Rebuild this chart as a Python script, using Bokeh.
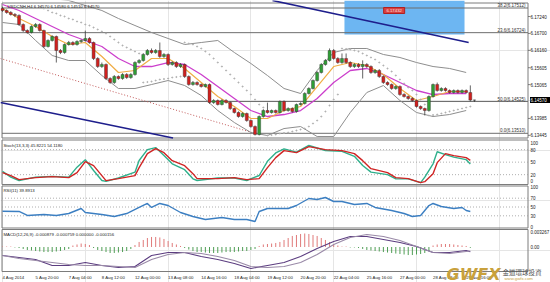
from bokeh.plotting import figure
from bokeh.models import Range1d
from bokeh.embed import file_html
from bokeh.resources import INLINE
from bokeh.core.properties import value

W, H = 550, 282
BAR_PX, X0_PX = 4.14, 2.0          # pixel spacing of the H4 bars
FONT = value("Liberation Sans")

# ---------------------------------------------------------------- data
title_text = "USDCNH,H4 6.14570 6.14580 6.14510 6.14570"

opens = [6.17500, 6.17432, 6.17369, 6.17305, 6.17273, 6.16985, 6.16793, 6.16730, 6.16921, 6.16985,
         6.16793, 6.16282, 6.16474, 6.16602, 6.16154, 6.16091, 6.16346, 6.16410, 6.16346, 6.16442,
         6.16474, 6.16538, 6.16410, 6.15899, 6.15643, 6.15707, 6.15260, 6.15132, 6.15324, 6.15260,
         6.15388, 6.15292, 6.15388, 6.15771, 6.15835, 6.16027, 6.16154, 6.16091, 6.16154, 6.15963,
         6.16027, 6.15707, 6.15771, 6.15643, 6.15707, 6.15324, 6.15068, 6.15132, 6.15068, 6.15004,
         6.15068, 6.14493, 6.14557, 6.14429, 6.14557, 6.14493, 6.14301, 6.14174, 6.14046, 6.14142,
         6.13918, 6.13726, 6.13471, 6.14046, 6.14238, 6.14174, 6.14238, 6.14174, 6.14525, 6.14238,
         6.14301, 6.14206, 6.14429, 6.14461, 6.14781, 6.14940, 6.15196, 6.15452, 6.15707, 6.15835,
         6.16154, 6.15899, 6.15771, 6.15899, 6.15771, 6.15643, 6.15707, 6.15643, 6.15707, 6.15643,
         6.15452, 6.15516, 6.15324, 6.15132, 6.15068, 6.14940, 6.15004, 6.14749, 6.14685, 6.14621,
         6.14557, 6.14365, 6.14301, 6.14238, 6.14685, 6.15068, 6.14877, 6.14940, 6.14877, 6.14813,
         6.14877, 6.14813, 6.14877, 6.14813, 6.14570]
highs = [6.1755, 6.1747, 6.1741, 6.1735, 6.1731, 6.1702, 6.1683, 6.1696, 6.1703, 6.1702,
         6.1682, 6.1651, 6.1664, 6.1663, 6.1620, 6.1638, 6.1646, 6.1645, 6.1648, 6.1651,
         6.1679, 6.1658, 6.1644, 6.1594, 6.1577, 6.1574, 6.1530, 6.1537, 6.1536, 6.1543,
         6.1543, 6.1543, 6.1581, 6.1588, 6.1607, 6.1620, 6.1622, 6.1620, 6.1641, 6.1607,
         6.1606, 6.1581, 6.1581, 6.1575, 6.1574, 6.1536, 6.1518, 6.1517, 6.1510, 6.1510,
         6.1510, 6.1460, 6.1459, 6.1460, 6.1460, 6.1453, 6.1433, 6.1421, 6.1418, 6.1417,
         6.1395, 6.1376, 6.1408, 6.1428, 6.1449, 6.1427, 6.1427, 6.1456, 6.1456, 6.1434,
         6.1434, 6.1446, 6.1450, 6.1482, 6.1498, 6.1523, 6.1549, 6.1575, 6.1588, 6.1622,
         6.1620, 6.1594, 6.1606, 6.1606, 6.1581, 6.1575, 6.1575, 6.1584, 6.1575, 6.1568,
         6.1556, 6.1556, 6.1536, 6.1517, 6.1510, 6.1504, 6.1504, 6.1479, 6.1472, 6.1466,
         6.1459, 6.1440, 6.1433, 6.1472, 6.1510, 6.1513, 6.1498, 6.1498, 6.1491, 6.1491,
         6.1491, 6.1491, 6.1491, 6.1504, 6.14580]
lows = [6.1739, 6.1733, 6.1727, 6.1722, 6.1694, 6.1675, 6.1669, 6.1670, 6.1688, 6.1676,
        6.1624, 6.1625, 6.1644, 6.1577, 6.1604, 6.1605, 6.1631, 6.1631, 6.1631, 6.1640,
        6.1644, 6.1637, 6.1585, 6.1560, 6.1560, 6.1521, 6.1509, 6.1509, 6.1522, 6.1522,
        6.1525, 6.1525, 6.1535, 6.1573, 6.1580, 6.1599, 6.1605, 6.1605, 6.1592, 6.1592,
        6.1566, 6.1567, 6.1560, 6.1560, 6.1528, 6.1503, 6.1503, 6.1503, 6.1497, 6.1497,
        6.1445, 6.1445, 6.1440, 6.1440, 6.1446, 6.1426, 6.1414, 6.1401, 6.1401, 6.1388,
        6.1369, 6.1344, 6.1344, 6.1401, 6.1414, 6.1414, 6.1414, 6.1414, 6.1420, 6.1420,
        6.1417, 6.1417, 6.1440, 6.1443, 6.1475, 6.1491, 6.1516, 6.1542, 6.1567, 6.1580,
        6.1586, 6.1573, 6.1573, 6.1573, 6.1560, 6.1560, 6.1560, 6.1526, 6.1560, 6.1541,
        6.1541, 6.1528, 6.1509, 6.1503, 6.1490, 6.1490, 6.1471, 6.1465, 6.1458, 6.1452,
        6.1433, 6.1426, 6.1408, 6.1420, 6.1465, 6.1484, 6.1484, 6.1484, 6.1478, 6.1478,
        6.1478, 6.1478, 6.1478, 6.1453, 6.14510]
closes = [6.17432, 6.17369, 6.17305, 6.17273, 6.16985, 6.16793, 6.16730, 6.16921, 6.16985, 6.16793,
          6.16282, 6.16474, 6.16602, 6.16154, 6.16091, 6.16346, 6.16410, 6.16346, 6.16442, 6.16474,
          6.16538, 6.16410, 6.15899, 6.15643, 6.15707, 6.15260, 6.15132, 6.15324, 6.15260, 6.15388,
          6.15292, 6.15388, 6.15771, 6.15835, 6.16027, 6.16154, 6.16091, 6.16154, 6.15963, 6.16027,
          6.15707, 6.15771, 6.15643, 6.15707, 6.15324, 6.15068, 6.15132, 6.15068, 6.15004, 6.15068,
          6.14493, 6.14557, 6.14429, 6.14557, 6.14493, 6.14301, 6.14174, 6.14046, 6.14142, 6.13918,
          6.13726, 6.13471, 6.14046, 6.14238, 6.14174, 6.14238, 6.14174, 6.14525, 6.14238, 6.14301,
          6.14206, 6.14429, 6.14461, 6.14781, 6.14940, 6.15196, 6.15452, 6.15707, 6.15835, 6.16154,
          6.15899, 6.15771, 6.15899, 6.15771, 6.15643, 6.15707, 6.15643, 6.15707, 6.15643, 6.15452,
          6.15516, 6.15324, 6.15132, 6.15068, 6.14940, 6.15004, 6.14749, 6.14685, 6.14621, 6.14557,
          6.14365, 6.14301, 6.14238, 6.14685, 6.15068, 6.14877, 6.14940, 6.14877, 6.14813, 6.14877,
          6.14813, 6.14877, 6.14813, 6.14570, 6.14570]

time_labels = ["4 Aug 2014", "5 Aug 20:00", "7 Aug 04:00", "8 Aug 12:00", "12 Aug 00:00",
               "13 Aug 08:00", "14 Aug 16:00", "18 Aug 04:00", "19 Aug 12:00", "20 Aug 20:00",
               "22 Aug 04:00", "25 Aug 16:00", "27 Aug 00:00", "28 Aug 08:00", "29 Aug 16:00"]
time_label_bars = [0, 8, 16, 24, 32, 40, 48, 56, 64, 72, 80, 88, 96, 104, 112]

price_ticks = [6.17240, 6.16700, 6.16160, 6.15605, 6.15065, 6.13985, 6.13445]
price_tick_labels = ["6.17240", "6.16700", "6.16160", "6.15605", "6.15065", "6.13985", "6.13445"]
last_price = 6.14570

fib_levels = [6.17512, 6.16724, 6.14525, 6.13510]
fib_labels = ["38.2(6.17512)", "23.6(6.16724)", "50.0(6.14525)", "0.0(6.13510)"]

# Bollinger bands and two moving averages, read every 4 bars
band_idx = [0, 4, 8, 12, 16, 20, 24, 28, 32, 36, 40, 44, 48, 52, 56, 60, 64, 68, 72, 76,
            80, 84, 88, 92, 96, 100, 104, 108, 112]
bb_upper = [6.18231, 6.18071, 6.17912, 6.17816, 6.17752, 6.17592, 6.17432, 6.17177, 6.16953, 6.16730,
            6.16538, 6.16346, 6.16410, 6.16474, 6.16091, 6.15739, 6.15356, 6.14941, 6.14781, 6.15516,
            6.16091, 6.16218, 6.16218, 6.16027, 6.15931, 6.15771, 6.15643, 6.15580, 6.15452]
bb_lower = [6.17049, 6.16985, 6.16474, 6.15995, 6.15835, 6.15835, 6.15356, 6.14941, 6.14941, 6.15068,
            6.15196, 6.15036, 6.14717, 6.14238, 6.13854, 6.13535, 6.13439, 6.13662, 6.13726, 6.13407,
            6.13407, 6.14174, 6.14813, 6.15036, 6.14557, 6.14174, 6.14046, 6.14110, 6.14238]
ma_fast = [6.17496, 6.17177, 6.16921, 6.16602, 6.16346, 6.16410, 6.15963, 6.15452, 6.15516, 6.15899,
           6.15899, 6.15580, 6.15132, 6.14685, 6.14365, 6.13982, 6.13982, 6.14238, 6.14365, 6.15004,
           6.15643, 6.15771, 6.15675, 6.15388, 6.14941, 6.14557, 6.14685, 6.14845, 6.14845]
ma_slow = [6.17624, 6.17432, 6.17177, 6.16921, 6.16666, 6.16474, 6.16282, 6.15899, 6.15643, 6.15643,
           6.15771, 6.15707, 6.15388, 6.15004, 6.14621, 6.14238, 6.14046, 6.14110, 6.14238, 6.14621,
           6.15132, 6.15516, 6.15580, 6.15388, 6.15132, 6.14877, 6.14749, 6.14781, 6.14781]

# Parabolic SAR dots
sar_idx = list(range(9, 114))
sar_val = [6.17560, 6.17496, 6.17432, 6.17369, 6.17337, 6.17273, 6.17241, 6.17177, 6.17145, 6.17081,
           6.17049, 6.16985, 6.16953, 6.16889, 6.16826, 6.16762, 6.16698, 6.16602, 6.16506, 6.16410,
           6.16314, 6.16250, 6.16187, 6.16123, 6.16059,
           6.15132, 6.15148, 6.15164, 6.15196, 6.15228, 6.15244, 6.15260, 6.15292, 6.15308, 6.15324,
           6.16410, 6.16378, 6.16346, 6.16282, 6.16218, 6.16123, 6.16027, 6.15899, 6.15771, 6.15643,
           6.15516, 6.15388, 6.15260, 6.15132, 6.15004, 6.14877, 6.14749, 6.14589, 6.14429, 6.14334,
           6.13439, 6.13455, 6.13471, 6.13503, 6.13519, 6.13535, 6.13567, 6.13599, 6.13631, 6.13662,
           6.13726, 6.13822, 6.13918, 6.14046, 6.14206, 6.14397, 6.14589, 6.14749,
           6.16218, 6.16202, 6.16187, 6.16155, 6.16123, 6.16059, 6.15995, 6.15931, 6.15867, 6.15771,
           6.15675, 6.15580, 6.15484, 6.15356, 6.15228, 6.15100, 6.14972, 6.14877, 6.14749, 6.14589,
           6.14429,
           6.14078, 6.14094, 6.14110, 6.14142, 6.14174, 6.14206, 6.14238, 6.14270, 6.14301, 6.14334,
           6.14365]

# trend lines / drawings (bar index, price)
trend_hi_x, trend_hi_y = [65.2, 112.6], [6.17752, 6.16410]
trend_lo_x, trend_lo_y = [-0.5, 41.2], [6.14493, 6.13359]
dotted_x, dotted_y = [-0.5, 61.1], [6.15899, 6.13503]
zone_left, zone_right, zone_bottom, zone_top = 82.6, 111.6, 6.16666, 6.17752
zone_tag = "6.17432"

# Stochastic (13,3,3)
stoch_idx = [0, 2, 4, 8, 12, 16, 18, 20, 22, 24, 25, 28, 32, 33, 35, 37, 39, 41, 44, 46,
             47, 52, 56, 59, 62, 64, 66, 68, 71, 74, 78, 82, 85, 87, 89, 93, 95, 98, 101, 102,
             104, 105, 107, 109, 112, 113]
stoch_k = [28, 14, 6, 14, 16, 14, 38, 56, 30, 6, 4, 12, 26, 54, 80, 85, 66, 46, 32, 10,
           6, 12, 12, 6, 18, 52, 72, 82, 74, 90, 78, 76, 64, 42, 26, 20, 10, 10, 1, 14,
           46, 75, 68, 62, 56, 45.8221]
stoch_d = [24.8, 17.6, 8.0, 12.8, 15.2, 12.8, 24.8, 51.2, 41.6, 17.6, 5.6, 10.4, 17.6, 36.8, 70.4, 82.4, 72.8, 53.6, 41.6, 22.4,
           10.4, 10.4, 12.8, 8.0, 10.4, 36.8, 60.8, 77.6, 72.8, 87.2, 80.0, 77.6, 70.4, 53.6, 34.4, 24.8, 12.8, 10.4, 0.8, 3.2,
           22.4, 48.8, 70.4, 65.6, 60.8, 54.1180]
stoch_levels = [80, 50, 20]

# RSI(11)
rsi_idx = [0, 4, 6, 10, 13, 16, 19, 20, 24, 27, 30, 33, 35, 36, 38, 40, 43, 46, 49, 53,
           56, 59, 61, 62, 64, 66, 69, 71, 74, 76, 78, 80, 82, 85, 88, 90, 94, 97, 99, 101,
           103, 104, 106, 109, 111, 112, 113]
rsi_val = [40.5, 39.8, 30.7, 33.0, 30.7, 35.2, 46.6, 37.5, 33.0, 28.4, 35.2, 48.9, 58.0, 48.9, 58.0, 53.4, 37.5, 28.4, 21.6, 26.1,
           21.6, 21.6, 17.0, 39.8, 46.6, 46.6, 46.6, 53.4, 69.3, 67.0, 71.6, 62.5, 62.5, 55.7, 58.0, 48.9, 42.0, 35.2, 28.4, 30.7,
           53.4, 58.0, 51.1, 46.6, 48.9, 42.0, 39.8913]
rsi_levels = [70, 50, 30]

# MACD(12,26,9), values in units of 1e-4
macd_hist_e4 = [0.9, 0.9, 0.9, -0.9, -1.9, -3.7, -5.6, -6.5, -7.5, -8.4,
                -9.4, -9.4, -9.4, -8.4, -7.5, -5.6, -3.7, 2.8, 4.7, 6.5,
                5.6, 3.7, -1.9, -5.6, -7.5, -9.4, -11.2, -11.2, -10.3, -9.4,
                -7.5, -3.7, 3.7, 9.4, 13.1, 16.8, 18.7, 18.7, 17.8, 15.0,
                11.2, 7.5, 4.7, 1.9, -1.9, -4.7, -7.5, -9.4, -9.4, -10.3,
                -11.2, -11.2, -11.2, -10.3, -9.4, -9.4, -9.4, -8.4, -7.5, -7.5,
                -5.6, -3.7, 1.9, 4.7, 5.6, 6.5, 7.5, 9.4, 13.1, 16.8,
                20.6, 22.4, 24.3, 25.2, 24.3, 22.4, 20.6, 16.8, 13.1, 9.4,
                5.6, 2.8, 0.9, 0.9, -0.9, -0.9, -1.9, -3.7, -5.6, -6.5,
                -7.5, -8.4, -9.4, -10.3, -11.2, -12.2, -13.1, -14.0, -15.0, -15.0,
                -14.0, -13.1, -11.2, -7.5, 2.8, 4.7, 5.6, 5.6, 5.6, 4.7,
                3.7, 2.8, 1.9, -1.56]
macd_idx = band_idx + [113]
macd_main_e4 = [-15.9, -19.6, -23.3, -34.5, -34.5, -28.9, -34.5, -38.3, -36.4, -15.9,
                -10.3, -10.3, -17.7, -23.3, -30.8, -40.1, -34.5, -28.9, -17.7, -2.8,
                10.3, 19.6, 19.6, 14.0, 8.4, 0.9, -10.3, -10.3, -6.5, -8.79]
macd_signal_e4 = [-15.9, -21.5, -25.2, -28.9, -32.7, -34.5, -34.5, -36.4, -38.3, -23.3,
                  -14.0, -10.3, -12.1, -17.7, -25.2, -36.4, -38.3, -36.4, -28.9, -14.0,
                  4.7, 17.7, 23.3, 19.6, 12.1, 0.9, -10.3, -12.1, -8.4, -7.59]
macd_top_value = 0.003267

# ---------------------------------------------------------------- layout (pixels)
PANEL_L, PANEL_R = 1.5, 527.5
panel_tops = [2.5, 139.5, 185.5, 229.0]
panel_bottoms = [137.5, 184.0, 227.5, 271.0]


def band_range(v_lo, v_hi, y_lo, y_hi):
    """Range whose v_hi sits at pixel row y_hi and v_lo at row y_lo."""
    s = (y_lo - y_hi) / (v_hi - v_lo)
    return Range1d(start=v_lo - (H - y_lo) / s, end=v_hi + y_hi / s)


p = figure(width=W, height=H,
           x_range=Range1d(-X0_PX / BAR_PX, (W - X0_PX) / BAR_PX),
           y_range=Range1d(H, 0),
           output_backend="svg", toolbar_location=None, min_border=0,
           x_axis_location=None, y_axis_location=None, outline_line_color=None,
           background_fill_color="white", border_fill_color="white")
p.extra_x_ranges = {"px": Range1d(0, W)}
p.extra_y_ranges = {
    "price": band_range(6.13510, 6.17512, 132.8, 7.5),
    "stoch": band_range(0, 100, 182.5, 140.8),
    "rsi": band_range(0, 100, 228.5, 184.5),
    "macd": band_range(0, macd_top_value, 246.5, 229.0),
}

# panel frames
p.quad(left=[PANEL_L] * 4, right=[PANEL_R] * 4, top=panel_tops, bottom=panel_bottoms,
       fill_color=None, line_color="#7c7c7c", line_width=1, x_range_name="px")

# ---------------- main price panel
p.quad(left=[zone_left], right=[zone_right], bottom=[zone_bottom], top=[zone_top],
       fill_color="#6db6f2", line_color=None, y_range_name="price")

p.multi_line(xs=[[PANEL_L, PANEL_R]] * len(fib_levels), ys=[[f, f] for f in fib_levels],
             line_color="#6e6e6e", line_width=1, x_range_name="px", y_range_name="price")
p.text(x=[525] * len(fib_levels), y=fib_levels, text=fib_labels, x_range_name="px",
       y_range_name="price", text_font=FONT, text_font_size="4.5px", text_color="#333333",
       text_align="right", text_baseline="bottom")

p.line(dotted_x, dotted_y, line_color="#c25a5a", line_dash="1 2", line_width=1,
       y_range_name="price")

p.line(band_idx, bb_upper, line_color="#8e8e8e", line_width=1, y_range_name="price")
p.line(band_idx, bb_lower, line_color="#8e8e8e", line_width=1, y_range_name="price")
p.line(band_idx, ma_slow, line_color="#cc3fcc", line_width=1.3, y_range_name="price")
p.line(band_idx, ma_fast, line_color="#f0ad45", line_width=1.2, y_range_name="price")

p.scatter(sar_idx, sar_val, size=1.1, color="#b0b0b0", y_range_name="price")

bars = list(range(len(closes)))
up = [c >= o for o, c in zip(opens, closes)]
body_top = [max(o, c) for o, c in zip(opens, closes)]
body_bot = [min(o, c) for o, c in zip(opens, closes)]
body_col = ["#2f9e35" if u else "#d0201e" for u in up]
p.segment(x0=bars, y0=highs, x1=bars, y1=lows, line_color="#3c3c3c", line_width=0.8,
          y_range_name="price")
p.vbar(x=bars, width=0.72, top=body_top, bottom=body_bot, fill_color=body_col,
       line_color="#333333", line_width=0.4, y_range_name="price")

p.line(trend_hi_x, trend_hi_y, line_color="#1e1e8c", line_width=1.6, y_range_name="price")
p.line(trend_lo_x, trend_lo_y, line_color="#1e1e8c", line_width=1.6, y_range_name="price")

# tag inside the zone
p.rect(x=[(zone_left + zone_right) / 2 - 2.5], y=[6.17432], width=21, height=6,
       width_units="screen", height_units="screen", fill_color="#d94040",
       line_color="#b02020", y_range_name="price")
p.text(x=[(zone_left + zone_right) / 2 - 2.5], y=[6.17432], text=[zone_tag],
       y_range_name="price", text_font=FONT, text_font_size="4.3px", text_color="#ffe0e0",
       text_align="center", text_baseline="middle")

# title
p.text(x=[7], y=[5.8], text=[title_text], x_range_name="px", text_font=FONT,
       text_font_size="4.3px", text_color="#111111", text_align="left", text_baseline="middle")

# right price scale
p.segment(x0=[PANEL_R] * len(price_ticks), x1=[PANEL_R + 2.5] * len(price_ticks),
          y0=price_ticks, y1=price_ticks, line_color="#555555", line_width=0.7,
          x_range_name="px", y_range_name="price")
p.text(x=[530] * len(price_ticks), y=price_ticks, text=price_tick_labels, x_range_name="px",
       y_range_name="price", text_font=FONT, text_font_size="4.5px", text_color="#222222",
       text_align="left", text_baseline="middle")
p.rect(x=[539.5], y=[last_price], width=20, height=6, width_units="screen",
       height_units="screen", fill_color="#000000", line_color=None,
       x_range_name="px", y_range_name="price")
p.text(x=[530], y=[last_price], text=["6.14570"], x_range_name="px", y_range_name="price",
       text_font=FONT, text_font_size="4.5px", text_color="#ffffff", text_align="left",
       text_baseline="middle")

# ---------------- stochastic panel
p.multi_line(xs=[[PANEL_L, PANEL_R]] * 3, ys=[[v, v] for v in stoch_levels],
             line_color="#9a9a9a", line_dash="1 2", line_width=0.8,
             x_range_name="px", y_range_name="stoch")
p.line(stoch_idx, stoch_k, line_color="#2fb08c", line_width=1.4, y_range_name="stoch")
p.line(stoch_idx, stoch_d, line_color="#d02424", line_width=1.4, y_range_name="stoch")
p.text(x=[3], y=[144.5], text=["Stoch(13,3,3) 45.8221 54.1180"], x_range_name="px",
       text_font=FONT, text_font_size="4.3px", text_color="#222222", text_align="left",
       text_baseline="middle")
p.text(x=[530] * 3, y=stoch_levels, text=["80", "50", "20"], x_range_name="px",
       y_range_name="stoch", text_font=FONT, text_font_size="4.5px", text_color="#222222",
       text_align="left", text_baseline="middle")
p.text(x=[530], y=[100], text=["100"], x_range_name="px", y_range_name="stoch",
       text_font=FONT, text_font_size="4.5px", text_color="#222222", text_align="left",
       text_baseline="top")
p.text(x=[530], y=[0], text=["0"], x_range_name="px", y_range_name="stoch",
       text_font=FONT, text_font_size="4.5px", text_color="#222222", text_align="left",
       text_baseline="bottom")

# ---------------- RSI panel
p.multi_line(xs=[[PANEL_L, PANEL_R]] * 3, ys=[[v, v] for v in rsi_levels],
             line_color="#9a9a9a", line_dash="1 2", line_width=0.8,
             x_range_name="px", y_range_name="rsi")
p.line(rsi_idx, rsi_val, line_color="#3c7fc2", line_width=1.4, y_range_name="rsi")
p.text(x=[3], y=[189.5], text=["RSI(11) 39.8913"], x_range_name="px", text_font=FONT,
       text_font_size="4.3px", text_color="#222222", text_align="left", text_baseline="middle")
p.text(x=[530] * 3, y=rsi_levels, text=["70", "50", "30"], x_range_name="px",
       y_range_name="rsi", text_font=FONT, text_font_size="4.5px", text_color="#222222",
       text_align="left", text_baseline="middle")
p.text(x=[530], y=[100], text=["100"], x_range_name="px", y_range_name="rsi",
       text_font=FONT, text_font_size="4.5px", text_color="#222222", text_align="left",
       text_baseline="top")
p.text(x=[530], y=[0], text=["0"], x_range_name="px", y_range_name="rsi",
       text_font=FONT, text_font_size="4.5px", text_color="#222222", text_align="left",
       text_baseline="bottom")

# ---------------- MACD panel
hist = [v * 1e-4 for v in macd_hist_e4]
hist_bars = list(range(len(hist)))
hist_col = ["#e07a7a" if v >= 0 else "#4f9e55" for v in hist]
p.segment(x0=hist_bars, y0=[0] * len(hist), x1=hist_bars, y1=hist, line_color=hist_col,
          line_width=1, y_range_name="macd")
p.line(macd_idx, [v * 1e-4 for v in macd_main_e4], line_color="#5c3d80", line_width=1.1,
       y_range_name="macd")
p.line(macd_idx, [v * 1e-4 for v in macd_signal_e4], line_color="#9a8aa8", line_width=1.1,
       y_range_name="macd")
p.text(x=[3], y=[233.5], text=["MACD(12,26,9) -0.000879 -0.000759 0.000000 -0.000156"],
       x_range_name="px", text_font=FONT, text_font_size="4.3px", text_color="#222222",
       text_align="left", text_baseline="middle")
p.text(x=[530], y=[macd_top_value], text=["0.003267"], x_range_name="px",
       y_range_name="macd", text_font=FONT, text_font_size="4.5px", text_color="#222222",
       text_align="left", text_baseline="top")
p.text(x=[530], y=[0], text=["0.00"], x_range_name="px", y_range_name="macd",
       text_font=FONT, text_font_size="4.5px", text_color="#222222", text_align="left",
       text_baseline="middle")

# ---------------- time axis
p.text(x=time_label_bars, y=[276.5] * len(time_label_bars), text=time_labels,
       text_font=FONT, text_font_size="4.3px", text_color="#222222", text_align="left",
       text_baseline="middle")

# ---------------- watermark
p.text(x=[446], y=[273.5], text=["GWFX"], x_range_name="px", text_font=value("DejaVu Sans"),
       text_font_size="16px", text_font_style="bold italic", text_color="#c9a13c",
       text_align="left", text_baseline="middle")
p.text(x=[502], y=[271.5], text=["金道環球投資"], x_range_name="px",
       text_font=value("Noto Sans CJK TC"), text_font_size="6.5px", text_color="#555555",
       text_align="left", text_baseline="middle")
p.text(x=[504], y=[278.0], text=["www.gwfx.com"], x_range_name="px", text_font=FONT,
       text_font_size="4.3px", text_color="#c9a13c", text_align="left", text_baseline="middle")

open("out.html", "w").write(file_html(p, INLINE))
